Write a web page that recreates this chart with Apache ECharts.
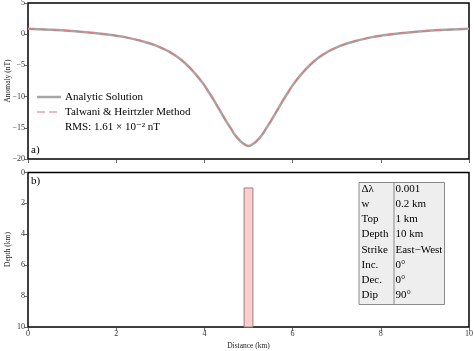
<!DOCTYPE html>
<html><head><meta charset="utf-8">
<script src="https://cdn.jsdelivr.net/npm/echarts@6/dist/echarts.min.js"></script>
<style>html,body{margin:0;padding:0;background:#fff}#c{width:474px;height:351px}</style>
</head><body><div id="c"></div>
<script>
// Distance (km)
const distance = [0,0.5,1,1.5,2,2.25,2.5,2.75,3,3.2,3.4,3.6,3.8,4,4.1,4.2,4.3,4.4,4.5,4.6,4.7,4.8,4.9,5,5.1,5.2,5.3,5.4,5.5,5.6,5.7,5.8,5.9,6,6.2,6.4,6.6,6.8,7,7.25,7.5,7.75,8,8.5,9,9.5,10];
// Anomaly (nT)
const analytic = [0.87,0.72,0.5,0.2,-0.25,-0.55,-0.95,-1.45,-2.1,-2.8,-3.7,-4.9,-6.4,-8.2,-9.3,-10.4,-11.6,-12.8,-14.0,-15.1,-16.2,-17.0,-17.6,-17.9,-17.6,-17.0,-16.2,-15.1,-14.0,-12.8,-11.6,-10.4,-9.3,-8.2,-6.4,-4.9,-3.7,-2.8,-2.1,-1.45,-0.95,-0.55,-0.25,0.2,0.5,0.72,0.87];
const talwani = [0.87,0.72,0.5,0.2,-0.25,-0.55,-0.95,-1.45,-2.1,-2.8,-3.7,-4.9,-6.4,-8.2,-9.3,-10.4,-11.6,-12.8,-14.0,-15.1,-16.2,-17.0,-17.6,-17.9,-17.6,-17.0,-16.2,-15.1,-14.0,-12.8,-11.6,-10.4,-9.3,-8.2,-6.4,-4.9,-3.7,-2.8,-2.1,-1.45,-0.95,-0.55,-0.25,0.2,0.5,0.72,0.87];
// dyke body: [xLeft, xRight, top depth, bottom depth]
const dyke = [[4.9, 5.1, 1, 10]];
const paramNames = ["Δλ","w","Top","Depth","Strike","Inc.","Dec.","Dip"];
const paramValues = ["0.001","0.2 km","1 km","10 km","East−West","0°","0°","90°"];
const legendNames = ["Analytic Solution","Talwani & Heirtzler Method"];
const rmsText = "RMS: 1.61 × 10⁻² nT";
const axisNames = ["Anomaly (nT)","Depth (km)","Distance (km)"];

const font = '"Liberation Serif","DejaVu Serif",serif';
const chart = echarts.init(document.getElementById('c'));
const L = 28, W = 441;
const fmtMinus = v => String(v).replace('-', '−');

const graphics = [];
// legend
graphics.push({type:'line', shape:{x1:37,y1:97,x2:61,y2:97}, style:{stroke:'#a6a6a6', lineWidth:2.5}});
graphics.push({type:'line', shape:{x1:37,y1:112,x2:61,y2:112}, style:{stroke:'#f0a0a0', lineWidth:1.5, lineDash:[8,4]}});
graphics.push({type:'text', x:65, y:97, style:{text:legendNames[0], font:'11px '+font, fill:'#000', textVerticalAlign:'middle'}});
graphics.push({type:'text', x:65, y:112, style:{text:legendNames[1], font:'11px '+font, fill:'#000', textVerticalAlign:'middle'}});
graphics.push({type:'text', x:65, y:127.5, style:{text:rmsText, font:'11px '+font, fill:'#000', textVerticalAlign:'middle'}});
graphics.push({type:'text', x:31, y:150, style:{text:'a)', font:'11px '+font, fill:'#000', textVerticalAlign:'middle'}});
graphics.push({type:'text', x:31, y:181, style:{text:'b)', font:'11px '+font, fill:'#000', textVerticalAlign:'middle'}});
// rotated axis names
graphics.push({type:'text', x:8, y:81, rotation:Math.PI/2, style:{text:axisNames[0], font:'7.5px '+font, fill:'#222', textAlign:'center', textVerticalAlign:'middle'}});
graphics.push({type:'text', x:8, y:249.5, rotation:Math.PI/2, style:{text:axisNames[1], font:'7.5px '+font, fill:'#222', textAlign:'center', textVerticalAlign:'middle'}});
// table
const tx = 359, ty = 182.5, tw = 85.5, th = 122, tdiv = 394, rh = th / paramNames.length;
graphics.push({type:'rect', shape:{x:tx,y:ty,width:tw,height:th}, style:{fill:'#eeeeee', stroke:'#8a8a8a', lineWidth:1}});
graphics.push({type:'line', shape:{x1:tdiv,y1:ty,x2:tdiv,y2:ty+th}, style:{stroke:'#8a8a8a', lineWidth:1}});
paramNames.forEach((n,i)=>{
  graphics.push({type:'text', x:tx+2.5, y:ty+rh*(i+0.5)-1.5, style:{text:n, font:'11px '+font, fill:'#000', textVerticalAlign:'middle'}});
  graphics.push({type:'text', x:tdiv+1.5, y:ty+rh*(i+0.5)-1.5, style:{text:paramValues[i], font:'11px '+font, fill:'#000', textVerticalAlign:'middle'}});
});

const axisCommon = {
  axisLine:{show:false, onZero:false},
  axisTick:{show:true, inside:false, length:4, lineStyle:{color:'#444', width:0.8}},
  axisLabel:{fontFamily:font, fontSize:8, color:'#333', margin:3},
  splitLine:{show:false}
};

chart.setOption({
  animation:false,
  backgroundColor:'#fff',
  grid:[
    {left:L, top:3, width:W, height:156, show:true, borderColor:'#000', borderWidth:1.5, backgroundColor:'transparent', containLabel:false, outerBoundsMode:'none'},
    {left:L, top:172.5, width:W, height:154.5, show:true, borderColor:'#000', borderWidth:1.5, backgroundColor:'transparent', containLabel:false, outerBoundsMode:'none'}
  ],
  xAxis:[
    Object.assign({}, axisCommon, {gridIndex:0, type:'value', min:0, max:10, interval:2, position:'bottom', axisLabel:{show:false}}),
    Object.assign({}, axisCommon, {gridIndex:1, type:'value', min:0, max:10, interval:2, position:'bottom',
      name:axisNames[2], nameLocation:'middle', nameGap:15, nameTextStyle:{fontFamily:font, fontSize:7.5, color:'#222'}})
  ],
  yAxis:[
    Object.assign({}, axisCommon, {gridIndex:0, type:'value', min:-20, max:5, interval:5, position:'left',
      axisLabel:{fontFamily:font, fontSize:8, color:'#333', margin:3, formatter:fmtMinus}}),
    Object.assign({}, axisCommon, {gridIndex:1, type:'value', min:0, max:10, interval:2, inverse:true, position:'left'})
  ],
  series:[
    {type:'line', name:legendNames[0], xAxisIndex:0, yAxisIndex:0, showSymbol:false, smooth:0.5,
      data:distance.map((x,i)=>[x,analytic[i]]), lineStyle:{color:'#a6a6a6', width:2.5}, z:2},
    {type:'line', name:legendNames[1], xAxisIndex:0, yAxisIndex:0, showSymbol:false, smooth:0.5,
      data:distance.map((x,i)=>[x,talwani[i]]), lineStyle:{color:'#e07a7a', width:1.3, type:[7,5]}, z:3},
    {type:'custom', xAxisIndex:1, yAxisIndex:1, data:dyke,
      renderItem:(params, api)=>{
        const p1 = api.coord([api.value(0), api.value(2)]);
        const p2 = api.coord([api.value(1), api.value(3)]);
        return {type:'rect', shape:{x:p1[0], y:p1[1], width:p2[0]-p1[0], height:p2[1]-p1[1]},
          style:{fill:'#ffcccc', stroke:'#9a8080', lineWidth:1}};
      }, z:1}
  ],
  graphic:graphics
});
</script></body></html>
